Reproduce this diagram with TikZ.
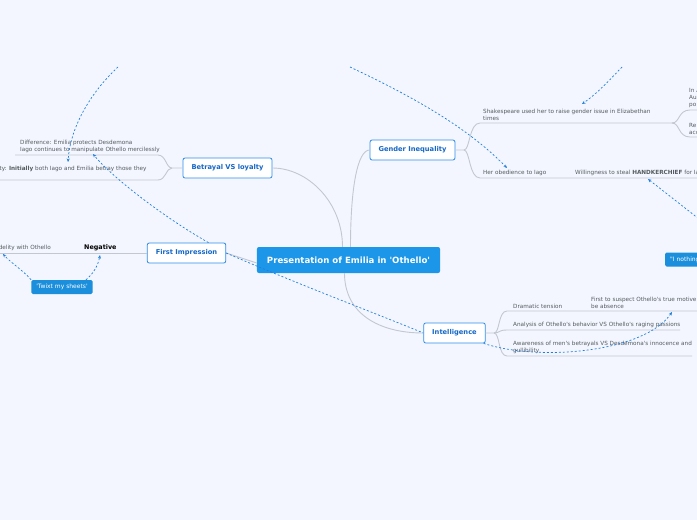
\documentclass[tikz,border=0pt]{standalone}
\usepackage{fontspec}
\setmainfont{DejaVu Sans}[Ligatures=TeXOff]
\usetikzlibrary{arrows.meta,positioning}
\definecolor{bgblue}{HTML}{F3F6FE}
\definecolor{rootblue}{HTML}{1C96E8}
\definecolor{topicline}{HTML}{2D8CEB}
\definecolor{topictext}{HTML}{1467C7}
\definecolor{branchgray}{HTML}{C3C7CF}
\definecolor{subtext}{HTML}{555A60}
\definecolor{linkblue}{HTML}{1E7FE0}
\tikzset{
  root/.style={fill=rootblue, rounded corners=2pt, text=white, inner xsep=10pt,
    minimum height=26pt, font=\bfseries\fontsize{8.6}{10}\selectfont},
  topic/.style={draw=topicline, fill=white, line width=0.8pt, rounded corners=2pt,
    text=topictext, inner xsep=8.5pt, minimum height=20pt, font=\bfseries\fontsize{6.7}{8}\selectfont},
  quote/.style={fill=rootblue!95!black, rounded corners=1.5pt, text=white, inner xsep=5pt,
    minimum height=14pt, font=\fontsize{6}{7}\selectfont},
  sub/.style={anchor=south west, inner sep=0pt, align=left, text=subtext,
    font=\fontsize{5.7}{7}\selectfont},
  branch/.style={draw=branchgray, line width=0.9pt},
  link/.style={draw=linkblue, line width=0.7pt, dash pattern=on 2pt off 2pt,
    -{Stealth[length=3.5pt,width=3pt]}},
}
\begin{document}
\begin{tikzpicture}[x=1pt,y=-1pt]
  \fill[bgblue] (0,0) rectangle (697,520);
  \useasboundingbox (0,0) rectangle (697,520);
  \clip (0,0) rectangle (697,520);
  % main nodes
  \node[root] (emilia) at (348.5,260) {Presentation of Emilia in 'Othello'};
  \node[topic] (gender) at (412.5,150) {Gender Inequality};
  \node[topic] (betray) at (227.5,168) {Betrayal VS loyalty};
  \node[topic] (first) at (186.5,253) {First Impression};
  \node[topic] (intel) at (454.5,333) {Intelligence};
  % branches from the centre
  \draw[branch] ([xshift=-6pt]emilia.north) .. controls +(0,-45) and +(35,0) .. (betray.east);
  \draw[branch] ([xshift=2pt]emilia.north) .. controls +(0,-60) and +(-12,0) .. (gender.west);
  \draw[branch] ([yshift=-3pt]emilia.west) -- (first.east);
  \draw[branch] ([xshift=-4pt]emilia.south) .. controls +(0,40) and +(-45,0) .. (intel.west);
  % gender inequality
  \node[sub] (shakes) at (483,121) {Shakespeare used her to raise gender issue in Elizabethan\\times};
  \node[sub] (obey) at (483,176) {Her obedience to Iago};
  \node[sub] (steal) at (575,176) {Willingness to steal \textbf{HANDKERCHIEF} for Iago};
  \node[sub] (inA) at (689,108) {In A\\Au\\po};
  \node[sub] (reB) at (689,135) {Re\\acc};
  \draw[branch] (gender.east) -- (464,150) .. controls (470,150) and (469,123) .. (480,123) -- (672,123);
  \draw[branch] (464,150) .. controls (470,150) and (469,178) .. (480,178) -- (697,178);
  \draw[branch] (672,123) .. controls (680,123) and (678,110) .. (690,110) -- (697,110);
  \draw[branch] (672,123) .. controls (680,123) and (678,137) .. (690,137) -- (697,137);
  % betrayal vs loyalty
  \node[sub] (diff) at (20,153) {Difference: Emilia protects Desdemona\\Iago continues to manipulate Othello mercilessly};
  \node[sub] (simil) at (-22,172) {Similarity: \textbf{Initially} both Iago and Emilia betray those they};
  \draw[branch] (betray.west) -- (172,168) .. controls (166,168) and (166,155) .. (158,155) -- (15,155);
  \draw[branch] (172,168) .. controls (166,168) and (166,180) .. (158,180) -- (0,180);
  % first impression
  \node[sub, text=black, font=\bfseries\fontsize{6.4}{7}\selectfont] (neg) at (84,251) {Negative};
  \node[sub] (fidel) at (-5,251) {fidelity with Othello};
  \draw[branch] (first.west) -- (0,253);
  \node[quote] (twixt) at (62,287) {'Twixt my sheets'};
  % intelligence
  \node[sub] (drama) at (513,309) {Dramatic tension};
  \node[sub] (suspect) at (591,309) {First to suspect Othello's true motive a\\be absence};
  \node[sub] (analysis) at (513,328) {Analysis of Othello's behavior VS Othello's raging passions};
  \node[sub] (aware) at (513,354) {Awareness of men's betrayals VS Desdemona's innocence and\\gullibility};
  \draw[branch] (intel.east) -- (494,333) .. controls (500,333) and (498,311) .. (507,311) -- (697,311);
  \draw[branch] (494,333) .. controls (500,333) and (498,330) .. (507,330) -- (680,330);
  \draw[branch] (494,333) .. controls (500,333) and (498,356) .. (507,356) -- (692,356);
  \node[quote, anchor=west] (nothing) at (665,259.5) {"I nothing but to please his fantasy"};
  % relationships
  \coordinate (topL) at (118,67);
  \coordinate (topM) at (350,67);
  \coordinate (topR) at (622,67);
  \coordinate (offR) at (708,226);
  \draw[link] (topL) .. controls (88,95) and (70,130) .. (68,162);
  \draw[link] ([xshift=22pt]first.north) .. controls (160,215) and (110,175) .. (93,154);
  \draw[link] (topM) .. controls (420,100) and (470,130) .. (507,168);
  \draw[link] (topR) .. controls (605,85) and (595,95) .. (582,104);
  \draw[link] (offR) -- (648,179);
  \draw[link] (twixt.north west) .. controls (25,272) and (10,262) .. (3,254);
  \draw[link] ([xshift=-7pt]twixt.north east) .. controls (93,274) and (98,266) .. (100,255);
  \draw[link, -] (first.east) .. controls (300,285) and (380,315) .. (intel.west);
  \draw[link] ([xshift=-2pt]intel.south east) .. controls (540,362) and (645,352) .. (672,312);
\end{tikzpicture}
\end{document}
